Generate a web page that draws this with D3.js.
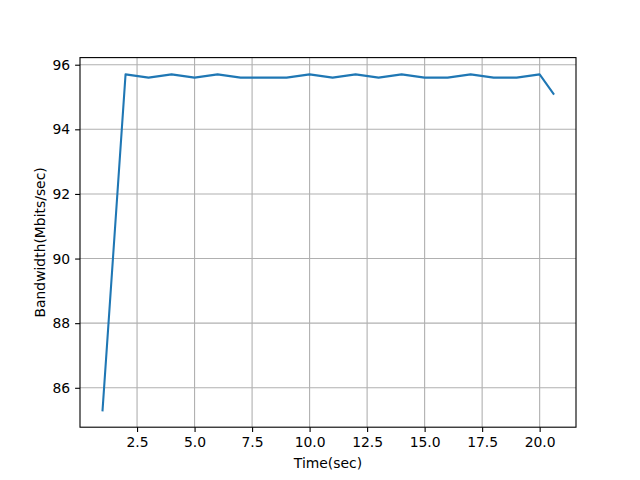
<!DOCTYPE html>
<html>
<head>
<meta charset="utf-8">
<script src="https://cdn.jsdelivr.net/npm/d3@7"></script>
<style>
  body { margin: 0; background: #fff; }
  svg text { font-family: "DejaVu Sans", sans-serif; }
</style>
</head>
<body>
<svg id="chart"></svg>
<script>
var times = [1, 2, 3, 4, 5, 6, 7, 8, 9, 10, 11, 12, 13, 14, 15, 16, 17, 18, 19, 20, 20.6];
var bandwidth = [85.3, 95.7, 95.6, 95.7, 95.6, 95.7, 95.6, 95.6, 95.6, 95.7, 95.6,
                 95.7, 95.6, 95.7, 95.6, 95.6, 95.7, 95.6, 95.6, 95.7, 95.1];
var xTicks = [2.5, 5.0, 7.5, 10.0, 12.5, 15.0, 17.5, 20.0];
var yTicks = [86, 88, 90, 92, 94, 96];

var width = 640, height = 480;
var margin = {top: 57.6, right: 64, bottom: 52.8, left: 80};
var w = width - margin.left - margin.right;
var h = height - margin.top - margin.bottom;

var svg = d3.select("#chart")
    .attr("width", width)
    .attr("height", height);

var g = svg.append("g")
    .attr("transform", "translate(" + margin.left + "," + margin.top + ")");

// matplotlib style 5% padding
var xMin = d3.min(times), xMax = d3.max(times);
var yMin = d3.min(bandwidth), yMax = d3.max(bandwidth);
var xPad = (xMax - xMin) * 0.05, yPad = (yMax - yMin) * 0.05;

var x = d3.scaleLinear().domain([xMin - xPad, xMax + xPad]).range([0, w]);
var y = d3.scaleLinear().domain([yMin - yPad, yMax + yPad]).range([h, 0]);

// grid
g.append("g").selectAll("line").data(xTicks).enter().append("line")
    .attr("x1", function(d) { return x(d); })
    .attr("x2", function(d) { return x(d); })
    .attr("y1", 0).attr("y2", h)
    .attr("stroke", "#b0b0b0").attr("stroke-width", 1.1);
g.append("g").selectAll("line").data(yTicks).enter().append("line")
    .attr("y1", function(d) { return y(d); })
    .attr("y2", function(d) { return y(d); })
    .attr("x1", 0).attr("x2", w)
    .attr("stroke", "#b0b0b0").attr("stroke-width", 1.1);

// line
var line = d3.line()
    .x(function(d, i) { return x(times[i]); })
    .y(function(d) { return y(d); });
g.append("path")
    .datum(bandwidth)
    .attr("d", line)
    .attr("fill", "none")
    .attr("stroke", "#1f77b4")
    .attr("stroke-width", 2.08)
    .attr("stroke-linejoin", "round")
    .attr("stroke-linecap", "square");

// axes
var xAxis = g.append("g")
    .attr("transform", "translate(0," + h + ")")
    .call(d3.axisBottom(x).tickValues(xTicks).tickFormat(d3.format(".1f")).tickSizeOuter(0).tickSize(4.9).tickPadding(4.9));
var yAxis = g.append("g")
    .call(d3.axisLeft(y).tickValues(yTicks).tickFormat(d3.format("d")).tickSizeOuter(0).tickSize(4.9).tickPadding(4.9));

[xAxis, yAxis].forEach(function(a) {
    a.select(".domain").remove();
    a.selectAll(".tick line").attr("stroke", "#000").attr("stroke-width", 1.1);
    a.selectAll(".tick text").attr("font-size", "13.9px").attr("fill", "#000")
        .style("font-family", "'DejaVu Sans', sans-serif");
});

// frame
g.append("rect")
    .attr("x", 0).attr("y", 0).attr("width", w).attr("height", h)
    .attr("fill", "none").attr("stroke", "#000").attr("stroke-width", 1.1);

// labels
svg.append("text")
    .attr("x", margin.left + w / 2)
    .attr("y", 468)
    .attr("text-anchor", "middle")
    .attr("font-size", "13.9px")
    .text("Time(sec)");
svg.append("text")
    .attr("transform", "translate(45," + (margin.top + h / 2) + ") rotate(-90)")
    .attr("text-anchor", "middle")
    .attr("font-size", "13.9px")
    .text("Bandwidth(Mbits/sec)");
</script>
</body>
</html>
